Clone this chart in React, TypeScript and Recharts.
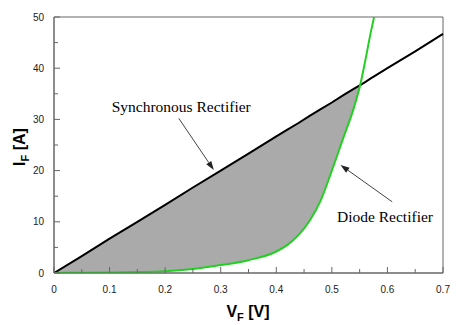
import React from "react";
import { ComposedChart, XAxis, YAxis, Line, Area, ReferenceArea, ReferenceLine } from "recharts";

// forward voltage [V]
const vf = [0, 0.05, 0.1, 0.15, 0.2, 0.25, 0.3, 0.35, 0.4, 0.42, 0.44, 0.46, 0.48, 0.5, 0.52, 0.54, 0.551, 0.56, 0.57, 0.576, 0.6, 0.65, 0.7];
// synchronous rectifier current [A]
const syncI = [0, 3.3, 6.7, 10.0, 13.3, 16.7, 20.0, 23.3, 26.7, 28.0, 29.3, 30.7, 32.0, 33.3, 34.7, 36.0, 36.7, 37.3, 38.0, 38.4, 40.0, 43.3, 46.7];
// diode rectifier current [A]
const diodeI: (number | null)[] = [0, 0.05, 0.1, 0.18, 0.35, 0.8, 1.55, 2.5, 4.2, 5.5, 7.4, 10.2, 14.2, 20.0, 26.2, 32.4, 36.7, 41.4, 47.0, 50, null, null, null];

const xTicks = [0, 0.05, 0.1, 0.15, 0.2, 0.25, 0.3, 0.35, 0.4, 0.45, 0.5, 0.55, 0.6, 0.65, 0.7];
const yTicks = [0, 5, 10, 15, 20, 25, 30, 35, 40, 45, 50];

const crossV = 0.551;

const data = vf.map((v, i) => ({
  v,
  sync: syncI[i],
  diode: diodeI[i],
  band: v <= crossV && diodeI[i] !== null ? [diodeI[i], syncI[i]] : null,
}));

const AXIS = "#666";

const XTick = (props: any) => {
  const { x, y, payload } = props;
  const v = payload.value as number;
  const major = Math.round(v * 100) % 10 === 0;
  return (
    <g>
      <line x1={x} y1={y} x2={x} y2={y - (major ? 6 : 4)} stroke={AXIS} />
      {major && (
        <text x={x} y={y + 20} textAnchor="middle" fontSize={10} fill="#222" fontFamily="Arial, Liberation Sans">
          {v === 0 ? "0" : v.toFixed(1)}
        </text>
      )}
    </g>
  );
};

const YTick = (props: any) => {
  const { x, y, payload } = props;
  const v = payload.value as number;
  const major = v % 10 === 0;
  return (
    <g>
      <line x1={x} y1={y} x2={x + (major ? 6 : 4)} y2={y} stroke={AXIS} />
      {major && (
        <text x={x - 10} y={y + 3.5} textAnchor="end" fontSize={10} fill="#222" fontFamily="Arial, Liberation Sans">
          {v}
        </text>
      )}
    </g>
  );
};

const Arrow = (p: any) => {
  const { x1, y1, x2, y2 } = p;
  const a = Math.atan2(y2 - y1, x2 - x1);
  const len = 9;
  const w = 3;
  const bx = x2 - len * Math.cos(a);
  const by = y2 - len * Math.sin(a);
  const pts = `${x2},${y2} ${bx + w * Math.sin(a)},${by - w * Math.cos(a)} ${bx - w * Math.sin(a)},${by + w * Math.cos(a)}`;
  return (
    <g>
      <line x1={x1} y1={y1} x2={bx} y2={by} stroke="#444" strokeWidth={1} />
      <polygon points={pts} fill="#222" />
    </g>
  );
};

export default function App() {
  return (
    <div style={{ position: "absolute", left: 0, top: 0 }}>
      <ComposedChart width={474} height={325} data={data} margin={{ top: 17, right: 31, bottom: 22, left: 10 }}>
        <ReferenceArea x1={0} x2={0.7} y1={0} y2={50} fill="none" stroke={AXIS} strokeWidth={1} />
        <Area
          type="monotone"
          dataKey="band"
          stroke="none"
          fill="#aaaaaa"
          fillOpacity={1}
          dot={false}
          activeDot={false}
          isAnimationActive={false}
        />
        <Line type="linear" dataKey="sync" stroke="#000" strokeWidth={2} dot={false} activeDot={false} isAnimationActive={false} />
        <Line
          type="monotone"
          dataKey="diode"
          stroke="#22d022"
          strokeWidth={2}
          dot={false}
          activeDot={false}
          isAnimationActive={false}
        />
        <XAxis
          dataKey="v"
          type="number"
          domain={[0, 0.7]}
          ticks={xTicks}
          interval={0}
          height={30}
          tickSize={0}
          tickMargin={0}
          tickLine={false}
          axisLine={{ stroke: AXIS }}
          tick={<XTick />}
        />
        <YAxis
          type="number"
          domain={[0, 50]}
          allowDataOverflow
          ticks={yTicks}
          interval={0}
          width={44}
          tickSize={0}
          tickMargin={0}
          tickLine={false}
          axisLine={{ stroke: AXIS }}
          tick={<YTick />}
        />
        <ReferenceLine segment={[{ x: 0.2246, y: 30.2 }, { x: 0.2876, y: 20.1 }]} shape={Arrow} />
        <ReferenceLine segment={[{ x: 0.6086, y: 13.9 }, { x: 0.5156, y: 21.1 }]} shape={Arrow} />
        <text x={111.7} y={112.3} fontSize={15.5} fontFamily="Times New Roman, Liberation Serif" fill="#000">
          Synchronous Rectifier
        </text>
        <text x={337} y={221.7} fontSize={15.5} fontFamily="Times New Roman, Liberation Serif" fill="#000">
          Diode Rectifier
        </text>
        <text
          x={25}
          y={147}
          transform="rotate(-90, 25, 147)"
          textAnchor="middle"
          fontSize={16}
          fontWeight="bold"
          fontFamily="Arial, Liberation Sans"
          fill="#000"
        >
          I<tspan fontSize={11} dy={4}>F</tspan>
          <tspan dy={-4}> [A]</tspan>
        </text>
        <text
          x={248}
          y={316.7}
          textAnchor="middle"
          fontSize={16}
          fontWeight="bold"
          fontFamily="Arial, Liberation Sans"
          fill="#000"
        >
          V<tspan fontSize={11} dy={4}>F</tspan>
          <tspan dy={-4}> [V]</tspan>
        </text>
      </ComposedChart>
    </div>
  );
}
